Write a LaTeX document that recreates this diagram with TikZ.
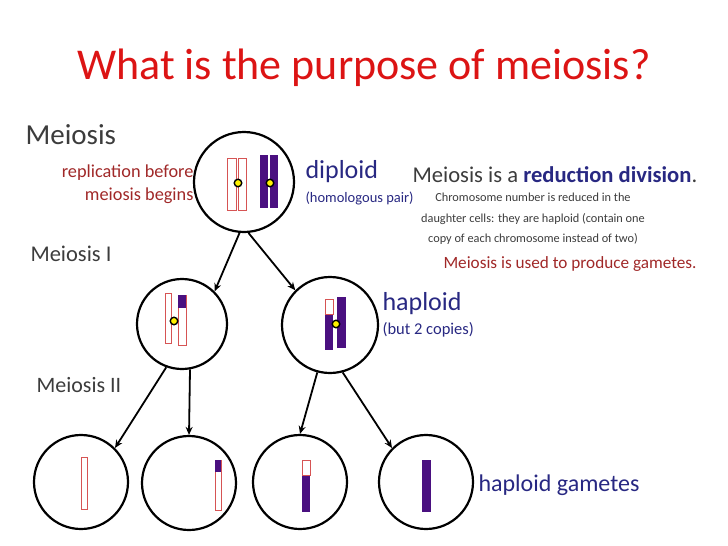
\documentclass[tikz,border=0pt]{standalone}
\usepackage{fontspec}
\setmainfont{Carlito}
\usetikzlibrary{arrows.meta}
\definecolor{chromred}{RGB}{214,84,84}
\definecolor{chrompurple}{RGB}{74,16,128}
\definecolor{titlered}{RGB}{220,20,20}
\definecolor{notered}{RGB}{160,40,40}
\definecolor{labelnavy}{RGB}{40,40,130}
\definecolor{headgray}{RGB}{60,60,60}
\tikzset{
  cell/.style={draw, line width=2.2pt, circle, minimum size=#1, inner sep=0pt},
  redarm/.style={draw=chromred, line width=0.9pt, fill=white},
  purplearm/.style={fill=chrompurple},
  centromere/.style={draw, line width=1.4pt, fill=yellow, circle, minimum size=7.5pt, inner sep=0pt},
  split/.style={-{Stealth[length=8pt,width=7pt]}, line width=1.8pt},
}
\begin{document}
\begin{tikzpicture}[x=1pt, y=-1pt]
            \useasboundingbox (0,0) rectangle (728,546);

            % Title and headings
            \node (title) at (364,68) {\fontsize{44}{48}\selectfont\color{titlered} What is the purpose of meiosis?};
            \node [anchor=west] (meiosis) at (22,135) {\fontsize{29}{32}\selectfont\color{headgray} Meiosis};
            \node [anchor=west] (meiosisone) at (27,254) {\fontsize{22.5}{26}\selectfont\color{headgray} Meiosis I};
            \node [anchor=west] (meiosistwo) at (33,385) {\fontsize{22}{26}\selectfont\color{headgray} Meiosis II};

            % Cells
            \node [cell=100pt] (parent) at (244,182) {};
            \node [cell=90pt] (daughterA) at (182,324) {};
            \node [cell=96pt] (daughterB) at (330,325) {};
            \node [cell=94pt] (gameteA) at (81,482) {};
            \node [cell=94pt] (gameteB) at (189,483) {};
            \node [cell=94pt] (gameteC) at (300,482) {};
            \node [cell=94pt] (gameteD) at (426,482) {};

            % Chromosomes in the parent cell
            \draw [redarm] (227,158) rectangle (236,210);
            \draw [redarm] (238,158) rectangle (246,210);
            \fill [purplearm] (260,155) rectangle (268,208);
            \fill [purplearm] (270,155) rectangle (278,208);
            \node [centromere] at (238,183) {};
            \node [centromere] at (270,183) {};

            % Chromosomes after meiosis I
            \draw [redarm] (165,293) rectangle (171,343);
            \draw [redarm] (178,295) rectangle (186,345);
            \fill [purplearm] (178,295) rectangle (186,308);
            \node [centromere] at (174,321) {};
            \fill [purplearm] (325,299) rectangle (333,350);
            \draw [redarm] (325,299) rectangle (333,314);
            \fill [purplearm] (337,297) rectangle (346,348);
            \node [centromere] at (336,324) {};

            % Gametes
            \draw [redarm] (81,457) rectangle (87,509);
            \draw [redarm] (215,460) rectangle (221,510);
            \fill [purplearm] (215,460) rectangle (221,472);
            \fill [purplearm] (302,460) rectangle (310,512);
            \draw [redarm] (302,460) rectangle (310,475);
            \fill [purplearm] (422,460) rectangle (431,512);

            % Divisions
            \draw [split] (parent.-95) -- (daughterA.north east);
            \draw [split] (parent.-85) -- (daughterB.north west);
            \draw [split] (daughterA.-110) -- (gameteA.north east);
            \draw [split] (daughterA.-80) -- (gameteB.north);
            \draw [split] (daughterB.-105) -- (gameteC.north);
            \draw [split] (daughterB.-75) -- (gameteD.north west);

            % Labels
            \node [anchor=east, align=right, text=notered, font=\fontsize{18.3}{23}\selectfont] (replication) at (197,184) {replication before\\meiosis begins};
            \node [anchor=west, text=labelnavy, font=\fontsize{26}{28}\selectfont] (diploid) at (302,172) {diploid};
            \node [anchor=west, text=labelnavy, font=\fontsize{14.5}{16}\selectfont] (homologous) at (302,198) {(homologous pair)};
            \node [anchor=west, text=labelnavy, font=\fontsize{26}{28}\selectfont] (haploid) at (379,304) {haploid};
            \node [anchor=west, text=labelnavy, font=\fontsize{16.5}{18}\selectfont] (copies) at (379,330) {(but 2 copies)};
            \node [anchor=west, text=labelnavy, font=\fontsize{24}{28}\selectfont] (gametes) at (475,485) {haploid gametes};
            \node [anchor=west, text=headgray, font=\fontsize{22.6}{26}\selectfont] (reduction) at (409,175) {Meiosis is a {\color{labelnavy}\bfseries reduction division}.};
            \node [align=center, text=headgray, font=\fontsize{12.3}{20.5}\selectfont] (numbers) at (533,219) {Chromosome number is reduced in the\\daughter cells: they are haploid (contain one\\copy of each chromosome instead of two)};
            \node [anchor=west, text=notered, font=\fontsize{17.2}{20}\selectfont] (used) at (440,264) {Meiosis is used to produce gametes.};
\end{tikzpicture}
\end{document}
